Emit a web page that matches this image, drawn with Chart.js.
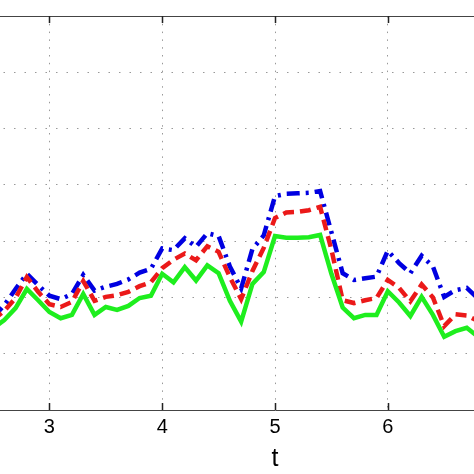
<!DOCTYPE html>
<html>
<head>
<meta charset="utf-8">
<script src="https://cdn.jsdelivr.net/npm/chart.js@4/dist/chart.umd.min.js"></script>
<style>
  html, body { margin: 0; padding: 0; background: #fff; overflow: hidden; }
  #wrap { position: relative; width: 474px; height: 474px; overflow: hidden; }
  #tChart { position: absolute; left: -7px; top: 0; }
</style>
</head>
<body>
<div id="wrap"><canvas id="tChart" width="564" height="474"></canvas></div>
<script>
// time points (t)
const tValues = [2.5, 2.6, 2.7, 2.8, 2.9, 3.0, 3.1, 3.2, 3.3, 3.4, 3.5, 3.6, 3.7, 3.8, 3.9,
  4.0, 4.1, 4.2, 4.3, 4.4, 4.5, 4.6, 4.7, 4.8, 4.9, 5.0, 5.1, 5.2, 5.3, 5.4, 5.5,
  5.6, 5.7, 5.8, 5.9, 6.0, 6.1, 6.2, 6.3, 6.4, 6.5, 6.6, 6.7, 6.8];

// blue dash-dot series (upper)
const blueValues = [1.65, 1.86, 2.15, 2.42, 2.22, 2.03, 1.97, 2.06, 2.40, 2.12, 2.19, 2.24, 2.32, 2.44, 2.51,
  2.87, 2.84, 3.05, 2.90, 3.14, 3.09, 2.55, 2.16, 2.86, 3.10, 3.80, 3.84, 3.85, 3.86, 3.89, 3.16,
  2.43, 2.31, 2.34, 2.37, 2.83, 2.61, 2.43, 2.74, 2.55, 2.01, 2.13, 2.17, 1.98];

// red dashed series (middle)
const redValues = [1.60, 1.76, 1.99, 2.36, 2.10, 1.88, 1.83, 1.92, 2.29, 1.94, 2.01, 2.04, 2.10, 2.20, 2.27,
  2.52, 2.67, 2.78, 2.66, 2.91, 2.81, 2.36, 1.97, 2.47, 2.88, 3.41, 3.51, 3.52, 3.55, 3.61, 2.85,
  1.95, 1.90, 1.95, 1.99, 2.31, 2.17, 1.93, 2.23, 2.00, 1.49, 1.70, 1.68, 1.58];

// green solid series (lower)
const greenValues = [1.45, 1.60, 1.81, 2.15, 1.95, 1.74, 1.63, 1.69, 2.06, 1.69, 1.83, 1.78, 1.85, 1.99, 2.03,
  2.42, 2.27, 2.54, 2.30, 2.57, 2.43, 1.94, 1.57, 2.24, 2.45, 3.09, 3.06, 3.06, 3.07, 3.11, 2.42,
  1.82, 1.63, 1.69, 1.69, 2.11, 1.91, 1.67, 2.01, 1.69, 1.30, 1.40, 1.46, 1.30];

// tick labels on the t axis
const xTickValues = [3, 4, 5, 6, 7];
const yTickValues = [0, 1, 2, 3, 4, 5, 6, 7];

// full axes range (the picture only shows part of it)
const xMin = 2.5, xMax = 7.5;
const yMin = 0, yMax = 7;

const toPoints = vals => tValues.map((t, i) => ({ x: t, y: vals[i] }));

// top box line + inward tick marks, like matlab axes
const boxPlugin = {
  id: 'boxPlugin',
  afterDraw(chart) {
    const ctx = chart.ctx;
    const area = chart.chartArea;
    const xs = chart.scales.x;
    ctx.save();
    ctx.strokeStyle = '#444';
    ctx.lineWidth = 1;
    ctx.beginPath();
    ctx.moveTo(area.left, area.top + 0.5);
    ctx.lineTo(area.right, area.top + 0.5);
    ctx.stroke();
    ctx.strokeStyle = '#222';
    ctx.lineWidth = 1.5;
    xs.ticks.forEach(tk => {
      const px = Math.round(xs.getPixelForValue(tk.value)) + 0.5;
      ctx.beginPath();
      ctx.moveTo(px, area.bottom);
      ctx.lineTo(px, area.bottom - 7);
      ctx.moveTo(px, area.top);
      ctx.lineTo(px, area.top + 7);
      ctx.stroke();
    });
    ctx.restore();
  }
};

const ctx = document.getElementById('tChart').getContext('2d');
new Chart(ctx, {
  type: 'line',
  data: {
    datasets: [
      {
        label: 'green',
        data: toPoints(greenValues),
        borderColor: 'rgb(30,238,30)',
        borderWidth: 4.5,
        pointRadius: 0,
        tension: 0,
        fill: false,
      },
      {
        label: 'red',
        data: toPoints(redValues),
        borderColor: 'rgb(235,25,25)',
        borderWidth: 4.5,
        borderDash: [11, 6],
        pointRadius: 0,
        tension: 0,
        fill: false,
      },
      {
        label: 'blue',
        data: toPoints(blueValues),
        borderColor: 'rgb(0,0,225)',
        borderWidth: 4.5,
        borderDash: [13, 6, 3, 6],
        pointRadius: 0,
        tension: 0,
        fill: false,
      },
    ],
  },
  options: {
    responsive: false,
    animation: false,
    layout: { padding: { top: 16, left: 0, right: 0, bottom: 0 } },
    plugins: {
      legend: { display: false },
      tooltip: { enabled: false },
    },
    scales: {
      x: {
        type: 'linear',
        min: xMin,
        max: xMax,
        afterFit: s => { s.height = 64; },
        afterBuildTicks: s => { s.ticks = xTickValues.map(v => ({ value: v })); },
        ticks: {
          padding: 5,
          color: '#000',
          font: { family: 'Liberation Sans', size: 20 },
          callback: v => v,
        },
        grid: { color: '#999', drawTicks: false },
        border: { display: true, color: '#444', width: 1, dash: [1.5, 6.3] },
        title: {
          display: true,
          text: 't',
          color: '#000',
          font: { family: 'Liberation Sans', size: 25 },
          padding: { top: 0, bottom: 0 },
        },
      },
      y: {
        min: yMin,
        max: yMax,
        afterFit: s => { s.width = 0; },
        afterBuildTicks: s => { s.ticks = yTickValues.map(v => ({ value: v })); },
        ticks: { display: false },
        grid: { color: '#999', drawTicks: false },
        border: { display: false, dash: [1.5, 9] },
      },
    },
  },
  plugins: [boxPlugin],
});
</script>
</body>
</html>
